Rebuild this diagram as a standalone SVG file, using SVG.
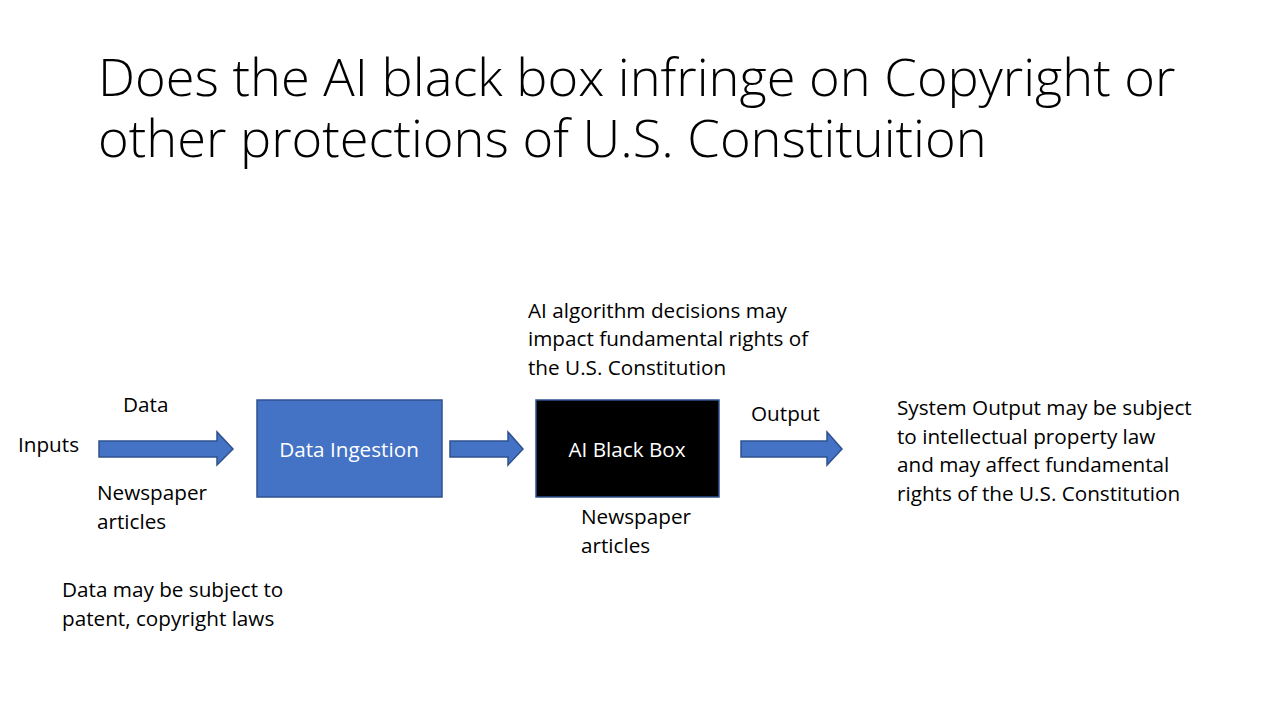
<svg xmlns="http://www.w3.org/2000/svg" width="1280" height="720" viewBox="0 0 1280 720">
<style>
.t{font-family:"Open Sans","Liberation Sans",sans-serif;font-size:20.7px;fill:#000}
.title{font-family:"Open Sans","Liberation Sans",sans-serif;font-weight:300;font-size:52.4px;fill:#000}
.arrow{fill:#4472C4;stroke:#2F528F;stroke-width:1.5}
.w{fill:#fff}
</style>
<rect width="1280" height="720" fill="#fff"/>
<g id="title">
<text class="title" x="98" y="96">Does the AI black box infringe on Copyright or</text>
<text class="title" x="98" y="157">other protections of U.S. Constituition</text>
</g>
<g id="connectors">
<path class="arrow" d="M99,441 H217 V432 L233,449 L217,465 V457 H99 Z"/>
<path class="arrow" d="M450,441 H508 V432 L523,449 L508,465 V457 H450 Z"/>
<path class="arrow" d="M741,441 H827 V432 L842,449 L827,465 V457 H741 Z"/>
</g>
<g id="inputs">
<text class="t" x="18" y="452">Inputs</text>
<text class="t" x="123" y="412">Data</text>
<text class="t" x="97" y="500">Newspaper</text>
<text class="t" x="97" y="529">articles</text>
</g>
<g id="data-ingestion">
<rect x="257" y="400" width="185" height="97" fill="#4472C4" stroke="#2F528F" stroke-width="1.5"/>
<text class="t w" x="349" y="457" text-anchor="middle">Data Ingestion</text>
</g>
<g id="ai-black-box">
<rect x="536" y="400" width="183" height="97" fill="#000" stroke="#2F528F" stroke-width="1.5"/>
<text class="t w" x="627" y="457" text-anchor="middle">AI Black Box</text>
</g>
<g id="ai-note">
<text class="t" x="528" y="318">AI algorithm decisions may</text>
<text class="t" x="528" y="346">impact fundamental rights of</text>
<text class="t" x="528" y="375">the U.S. Constitution</text>
</g>
<g id="box-articles">
<text class="t" x="581" y="524">Newspaper</text>
<text class="t" x="581" y="553">articles</text>
</g>
<g id="output">
<text class="t" x="751" y="421">Output</text>
</g>
<g id="output-note">
<text class="t" x="897" y="415">System Output may be subject</text>
<text class="t" x="897" y="444">to intellectual property law</text>
<text class="t" x="897" y="472">and may affect fundamental</text>
<text class="t" x="897" y="501">rights of the U.S. Constitution</text>
</g>
<g id="data-note">
<text class="t" x="62" y="597">Data may be subject to</text>
<text class="t" x="62" y="626">patent, copyright laws</text>
</g>
</svg>
